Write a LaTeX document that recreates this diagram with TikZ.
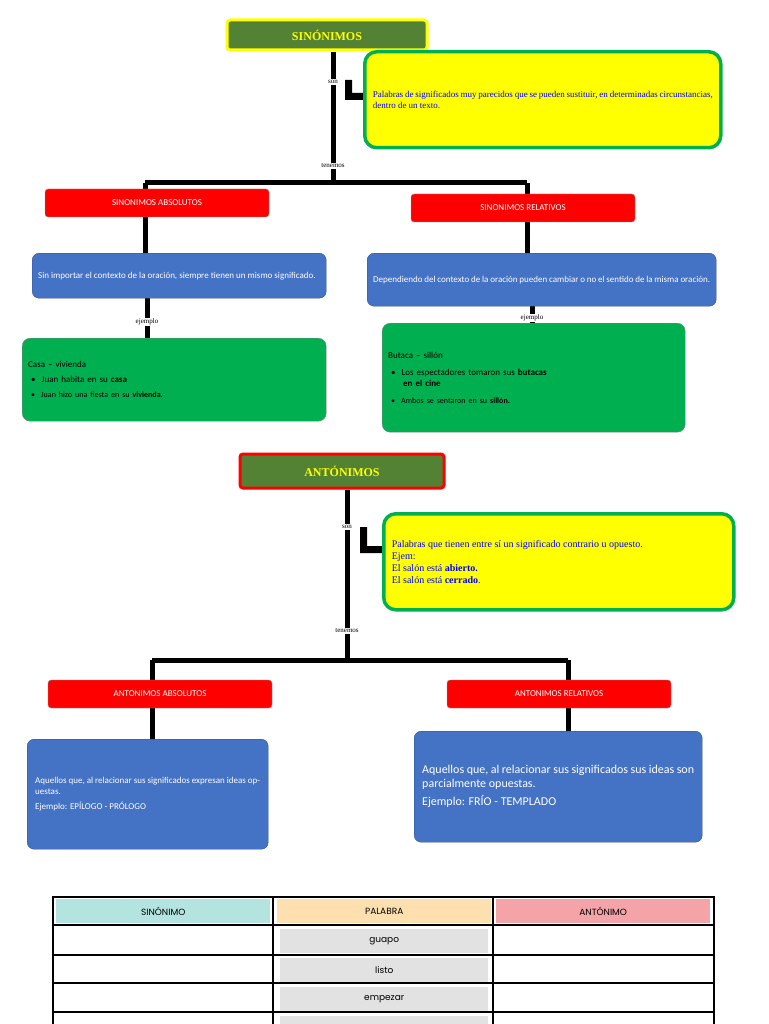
\documentclass[tikz,border=0pt]{standalone}
\usepackage{fontspec}
\setmainfont{Carlito}
\newfontfamily\serifo{Liberation Serif}
\newfontfamily\tablf{Poppins}
\usetikzlibrary{positioning}
\definecolor{tituloverde}{HTML}{548235}
\definecolor{rojo}{HTML}{FF0000}
\definecolor{azul}{HTML}{4472C4}
\definecolor{verde}{HTML}{00B050}
\definecolor{amarillo}{HTML}{FFFF00}
\definecolor{celeste}{HTML}{B4E4E0}
\definecolor{naranja}{HTML}{FEE0B0}
\definecolor{rosa}{HTML}{F4A3A8}
\definecolor{gris}{HTML}{E2E2E2}
\tikzset{
	titulo/.style={draw=#1, line width=3pt, fill=tituloverde, rounded corners=3pt, text=amarillo, font=\serifo\bfseries\large},
	defin/.style={draw=verde, line width=3.5pt, fill=amarillo, rounded corners=12pt, text=blue, font=\serifo\small, align=justify, inner sep=8pt},
	tipo/.style={fill=rojo, draw=black!40, rounded corners=3pt, text=white, font=\small, minimum width=224pt, minimum height=28pt},
	azulbox/.style={fill=azul, draw=azul!70!black, rounded corners=7pt, text=white, align=justify, inner sep=6pt},
	verdebox/.style={fill=verde, draw=black!50, rounded corners=8pt, text=black, align=left, inner sep=6pt},
	enlace/.style={fill=white, font=\serifo\scriptsize, inner sep=1pt},
	barra/.style={line width=5pt}
}
\begin{document}
\begin{tikzpicture}[x=1pt, y=-1pt]
	\useasboundingbox (0,0) rectangle (768,1024);
	% sinonimos
	\draw[barra] (333,52) -- (333,183);
	\draw[barra] (145,183) -- (527,183);
	\draw[barra] (145,183) -- (145,253);
	\draw[barra] (527,183) -- (527,253);
	\draw[barra] (147,298) -- (147,338);
	\draw[barra] (532,306) -- (532,323);
	\fill (345,80) rectangle (352,100) (345,93) rectangle (364,100);
	\node[titulo=amarillo, minimum width=200pt, minimum height=30pt] (sin) at (327,35) {SINÓNIMOS};
	\node[defin, text width=340pt, minimum height=96pt, anchor=north west] (sindef) at (363,50) {Palabras de significados muy parecidos que se pueden sustituir, en determinadas circunstancias, dentro de un texto.\par\vfill};
	\node[enlace] (son1) at (333,82) {son};
	\node[enlace] (ten1) at (333,166) {tenemos};
	\node[tipo] (sabs) at (157,203) {SINONIMOS ABSOLUTOS};
	\node[tipo] (srel) at (523,208) {SINONIMOS RELATIVOS};
	\node[azulbox, text width=282pt, minimum height=45pt, anchor=north west, font=\small] (sabsd) at (32,253) {Sin importar el contexto de la oración, siempre tienen un mismo significado.};
	\node[azulbox, text width=337pt, minimum height=53pt, anchor=north west, font=\small] (sreld) at (367,253) {Dependiendo del contexto de la oración pueden cambiar o no el sentido de la misma oración.};
	\node[enlace] (ej1) at (147,322) {ejemplo};
	\node[enlace] (ej2) at (532,318) {ejemplo};
	\node[verdebox, text width=292pt, minimum height=83pt, anchor=north west, font=\small] (sabse) at (22,338) {Casa -- vivienda\\[4pt]
		\ \textbullet\ \ Juan habita en su \textbf{casa}\\[4pt]
		{\footnotesize\ \textbullet\ \ Juan hizo una fiesta en su \textbf{vivienda.}}};
	\node[verdebox, text width=291pt, minimum height=109pt, anchor=north west, font=\small] (srele) at (382,323) {Butaca -- sillón\\[6pt]
		\ \textbullet\ \ Los espectadores tomaron sus \textbf{butacas}\\
		\ \ \ \ \ \textbf{en el cine}\\[6pt]
		{\footnotesize\ \textbullet\ \ Ambos se sentaron en su \textbf{sillón.}}};
	% antonimos
	\draw[barra] (347,490) -- (347,660);
	\draw[barra] (152,660) -- (568,660);
	\draw[barra] (152,660) -- (152,739);
	\draw[barra] (568,660) -- (568,731);
	\fill (360,527) rectangle (367,553) (360,546) rectangle (382,553);
	\node[titulo=rojo, minimum width=204pt, minimum height=34pt] (ant) at (342,471) {ANTÓNIMOS};
	\node[defin, text width=334pt, minimum height=96pt, anchor=north west, font=\serifo\normalsize] (antdef) at (382,512) {Palabras que tienen entre sí un significado contrario u opuesto.\\
		Ejem:\\
		\ El salón está \textbf{abierto.}\\
		\ El salón está \textbf{cerrado}.};
	\node[enlace] (son2) at (347,527) {son};
	\node[enlace] (ten2) at (347,631) {tenemos};
	\node[tipo] (aabs) at (160,694) {ANTONIMOS ABSOLUTOS};
	\node[tipo] (arel) at (559,694) {ANTONIMOS RELATIVOS};
	\node[azulbox, text width=225pt, minimum height=110pt, anchor=north west, font=\small, inner sep=8pt] (aabsd) at (27,739) {Aquellos que, al relacionar sus significados expresan ideas opuestas.\\[4pt]
		Ejemplo: EPÍLOGO - PRÓLOGO};
	\node[azulbox, text width=272pt, minimum height=111pt, anchor=north west, font=\large, inner sep=8pt] (areld) at (414,731) {Aquellos que, al relacionar sus significados sus ideas son parcialmente opuestas.\\[4pt]
		Ejemplo: FRÍO - TEMPLADO};
	% tabla
	\foreach \col/\x/\txt in {celeste/56/SINÓNIMO, naranja/277/PALABRA, rosa/496/ANTÓNIMO}
		\node[fill=\col, minimum width=214pt, minimum height=24pt, anchor=north west, font=\tablf\small] at (\x,899) {\txt};
	\foreach \y/\txt in {927/guapo, 956/listo, 985/empezar, 1014/}
		\node[fill=gris, minimum width=208pt, minimum height=24pt, anchor=north west, font=\tablf\small] at (280,\y+2) {\txt};
	\draw[line width=1.5pt] (53,1030) -- (53,897) -- (714,897) -- (714,1030);
	\foreach \y in {925,955,983,1012} \draw[line width=1.5pt] (53,\y) -- (714,\y);
	\foreach \x in {273,493} \draw[line width=1.5pt] (\x,897) -- (\x,1030);
\end{tikzpicture}
\end{document}
